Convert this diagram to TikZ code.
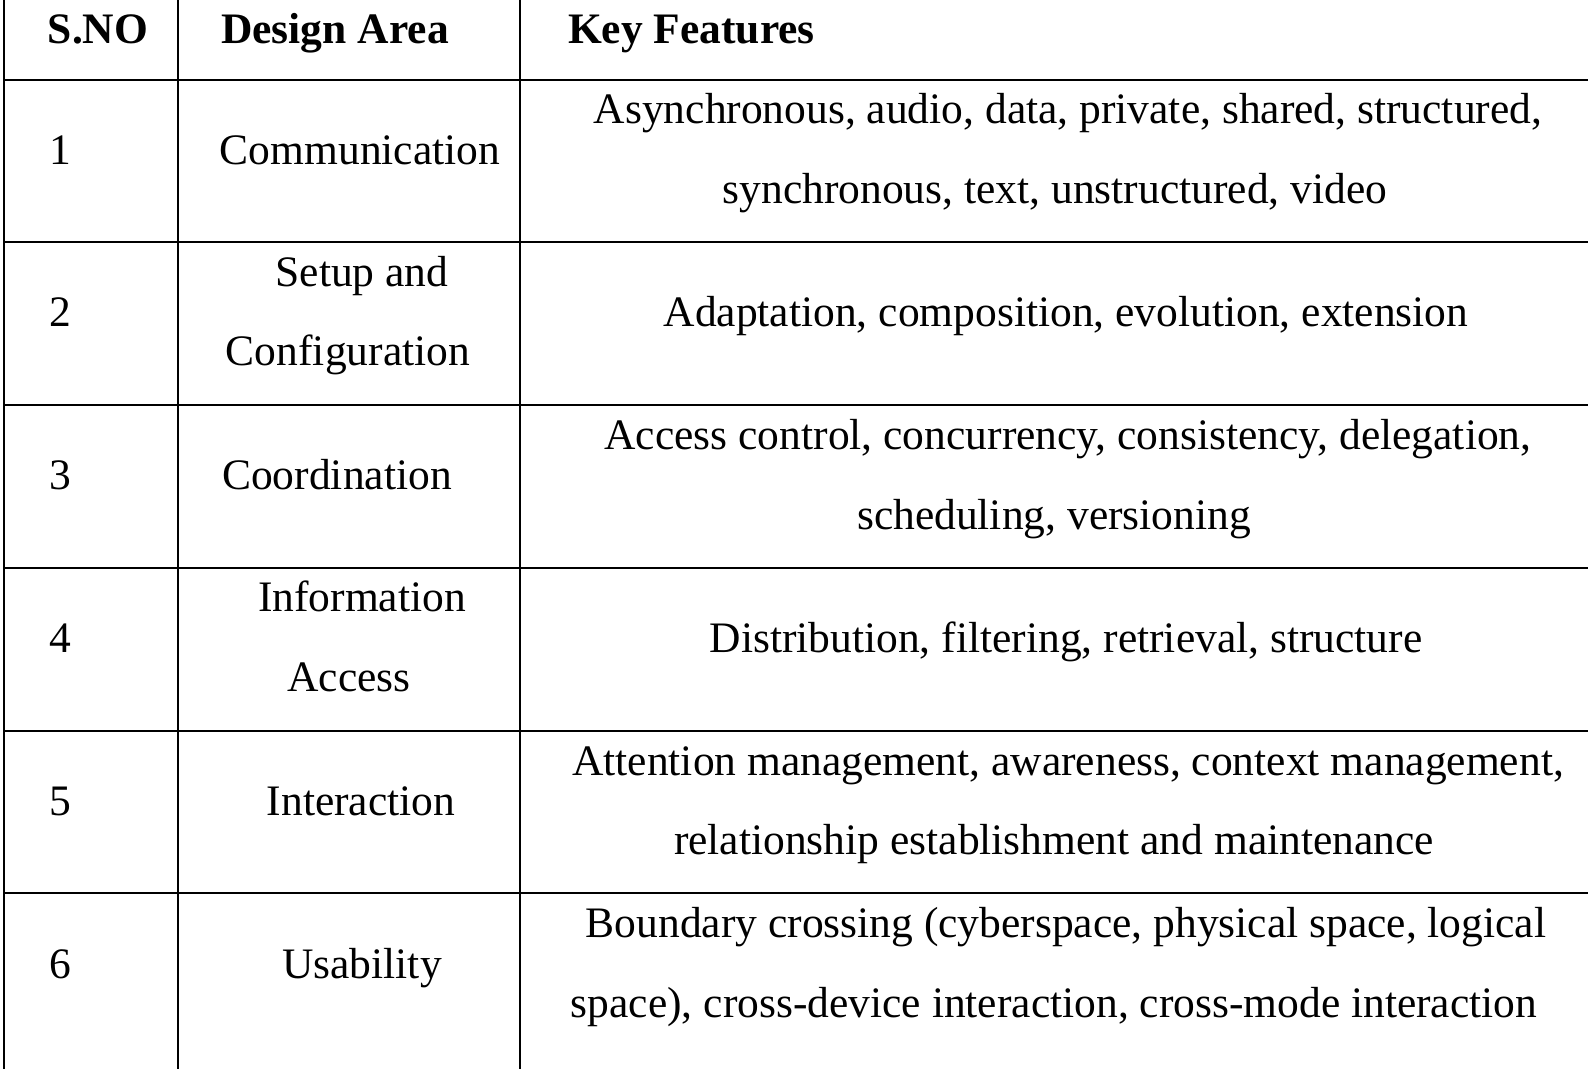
\documentclass[tikz,border=0pt]{standalone}
\usepackage{fontspec}
\setmainfont{Liberation Serif}
\begin{document}
\begin{tikzpicture}[x=1pt,y=-1pt,line width=2pt,
  cell/.style={font=\fontsize{43.5}{48}\selectfont,inner sep=0pt,anchor=base},
  head/.style={cell,font=\fontsize{43.5}{48}\selectfont\bfseries}]
\useasboundingbox (0,0) rectangle (1588,1069);
\draw (4,0) -- (4,1069);
\draw (178,0) -- (178,1069);
\draw (520,0) -- (520,1069);
\foreach \y in {80,242,405,568,731,893} \draw (4,\y) -- (1588,\y);
\node[head] (h1) at (98,43) {S.NO};
\node[head] (h2) at (335,43) {Design Area};
\node[head,anchor=base west] (h3) at (567,43) {Key Features};
% rows
\node[cell] (n1) at (60,164) {1};
\node[cell] (d1) at (360,164) {Communication};
\node[cell] (k1a) at (1068,123) {Asynchronous, audio, data, private, shared, structured,};
\node[cell] (k1b) at (1055,203) {synchronous, text, unstructured, video};
\node[cell] (n2) at (60,326) {2};
\node[cell] (d2a) at (362,286) {Setup and};
\node[cell] (d2b) at (348,365) {Configuration};
\node[cell] (k2) at (1066,326) {Adaptation, composition, evolution, extension};
\node[cell] (n3) at (60,489) {3};
\node[cell] (d3) at (337,489) {Coordination};
\node[cell] (k3a) at (1068,449) {Access control, concurrency, consistency, delegation,};
\node[cell] (k3b) at (1054,529) {scheduling, versioning};
\node[cell] (n4) at (60,652) {4};
\node[cell] (d4a) at (362,611) {Information};
\node[cell] (d4b) at (349,691) {Access};
\node[cell] (k4) at (1066,652) {Distribution, filtering, retrieval, structure};
\node[cell] (n5) at (60,815) {5};
\node[cell] (d5) at (361,815) {Interaction};
\node[cell] (k5a) at (1068,775) {Attention management, awareness, context management,};
\node[cell] (k5b) at (1054,854) {relationship establishment and maintenance};
\node[cell] (n6) at (60,978) {6};
\node[cell] (d6) at (362,978) {Usability};
\node[cell] (k6a) at (1066,937) {Boundary crossing (cyberspace, physical space, logical};
\node[cell] (k6b) at (1054,1017) {space), cross-device interaction, cross-mode interaction};
\end{tikzpicture}
\end{document}
